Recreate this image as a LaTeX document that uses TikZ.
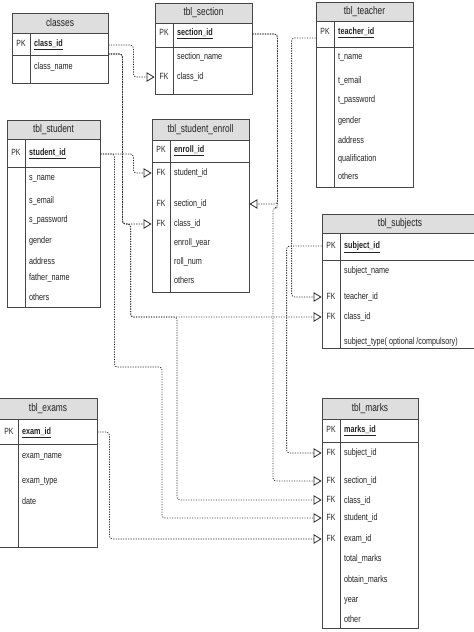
\documentclass[tikz,border=0pt]{standalone}
\usepackage{fontspec}
\setmainfont{Liberation Sans}[FakeStretch=0.76]
\usetikzlibrary{arrows.meta,fit,calc}
\definecolor{headgray}{RGB}{222,222,222}
\definecolor{linegray}{RGB}{70,70,70}
\definecolor{textgray}{RGB}{35,35,35}
\definecolor{relgray}{RGB}{45,45,45}
\tikzset{
  tline/.style={draw=linegray, line width=0.8pt},
  tbox/.style={draw=linegray, line width=0.8pt, inner sep=0pt},
  ttl/.style={font=\fontsize{11}{13}\selectfont, text=textgray, inner sep=0pt},
  keytxt/.style={font=\fontsize{9}{10}\selectfont, text=textgray, inner sep=0pt, text height=6.8pt, text depth=1.6pt},
  fld/.style={anchor=west, font=\fontsize{9.5}{11}\selectfont, text=textgray, inner sep=0pt, text height=6.8pt, text depth=1.6pt},
  rel/.style={draw=relgray, line width=0.8pt, dash pattern=on 1.1pt off 1.4pt, rounded corners=3pt,
              -{Triangle[open, length=8pt, width=9.5pt]}},
}
\newcommand\ertable[9]{%
  \fill[headgray] (#3,#4) rectangle (#5,#6);
  \draw[tline] (#3,#6) -- (#5,#6) (#3,#7) -- (#5,#7) (#9,#6) -- (#9,#8);
  \node[tbox, fit={(#3,#4) (#5,#8)}] (#1) {};
  \node[ttl] (#1-title) at ({(#3+#5)/2},{(#4+#6)/2}) {#2};
}
\newcommand\keylbl[4]{\node[keytxt] (#1) at (#2,#3) {#4};}
\newcommand\fieldlbl[4]{\node[fld] (#1) at (#2,#3) {#4};}
\begin{document}
\begin{tikzpicture}[x=1pt,y=-1pt]
\useasboundingbox[fill=white] (0,0) rectangle (474,632);
% classes
\ertable{classes}{classes}{12}{13}{108}{33}{55}{83}{30}
\keylbl{classes-pk}{21}{44}{PK}
\fieldlbl{classes-classid}{34}{44}{\underline{\textbf{class\_id}}}
\fieldlbl{classes-classname}{34}{67}{class\_name}
% tbl_section
\ertable{section}{tbl\_section}{155}{3}{252}{23}{47}{94}{173}
\keylbl{section-pk}{164}{33}{PK}
\fieldlbl{section-id}{177}{33}{\underline{\textbf{section\_id}}}
\fieldlbl{section-name}{177}{57}{section\_name}
\keylbl{section-fk}{164}{77}{FK}
\fieldlbl{section-classid}{177}{77}{class\_id}
% tbl_teacher
\ertable{teacher}{tbl\_teacher}{316}{2}{413}{21}{47}{187}{334}
\keylbl{teacher-pk}{325}{32}{PK}
\fieldlbl{teacher-id}{338}{32}{\underline{\textbf{teacher\_id}}}
\fieldlbl{teacher-name}{338}{57}{t\_name}
\fieldlbl{teacher-email}{338}{81}{t\_email}
\fieldlbl{teacher-pw}{338}{100}{t\_password}
\fieldlbl{teacher-gender}{338}{121}{gender}
\fieldlbl{teacher-address}{338}{141}{address}
\fieldlbl{teacher-qual}{338}{159}{qualification}
\fieldlbl{teacher-others}{338}{177}{others}
% tbl_student
\ertable{student}{tbl\_student}{7}{120}{100}{139}{167}{307}{25}
\keylbl{student-pk}{16}{153}{PK}
\fieldlbl{student-id}{29}{153}{\underline{\textbf{student\_id}}}
\fieldlbl{student-name}{29}{178}{s\_name}
\fieldlbl{student-email}{29}{201}{s\_email}
\fieldlbl{student-pw}{29}{220}{s\_password}
\fieldlbl{student-gender}{29}{241}{gender}
\fieldlbl{student-address}{29}{262}{address}
\fieldlbl{student-father}{29}{278}{father\_name}
\fieldlbl{student-others}{29}{298}{others}
% tbl_student_enroll
\ertable{enroll}{tbl\_student\_enroll}{152}{119}{249}{140}{162}{292}{170}
\keylbl{enroll-pk}{161}{150}{PK}
\fieldlbl{enroll-id}{174}{150}{\underline{\textbf{enroll\_id}}}
\keylbl{enroll-fk1}{161}{173}{FK}
\fieldlbl{enroll-studentid}{174}{173}{student\_id}
\keylbl{enroll-fk2}{161}{204}{FK}
\fieldlbl{enroll-sectionid}{174}{204}{section\_id}
\keylbl{enroll-fk3}{161}{224}{FK}
\fieldlbl{enroll-classid}{174}{224}{class\_id}
\fieldlbl{enroll-year}{174}{243}{enroll\_year}
\fieldlbl{enroll-roll}{174}{262}{roll\_num}
\fieldlbl{enroll-others}{174}{281}{others}
% tbl_subjects
\ertable{subjects}{tbl\_subjects}{322}{214}{478}{233}{260}{348}{340}
\keylbl{subjects-pk}{331}{246}{PK}
\fieldlbl{subjects-id}{344}{246}{\underline{\textbf{subject\_id}}}
\fieldlbl{subjects-name}{344}{271}{subject\_name}
\keylbl{subjects-fk1}{331}{297}{FK}
\fieldlbl{subjects-teacherid}{344}{297}{teacher\_id}
\keylbl{subjects-fk2}{331}{317}{FK}
\fieldlbl{subjects-classid}{344}{317}{class\_id}
\fieldlbl{subjects-type}{344}{342}{subject\_type( optional /compulsory)}
% tbl_exams
\ertable{exams}{tbl\_exams}{-1}{398}{97}{419}{444}{547}{18}
\keylbl{exams-pk}{9}{432}{PK}
\fieldlbl{exams-id}{22}{432}{\underline{\textbf{exam\_id}}}
\fieldlbl{exams-name}{22}{456}{exam\_name}
\fieldlbl{exams-type}{22}{481}{exam\_type}
\fieldlbl{exams-date}{22}{502}{date}
% tbl_marks
\ertable{marks}{tbl\_marks}{322}{398}{418}{419}{442}{628}{340}
\keylbl{marks-pk}{331}{430}{PK}
\fieldlbl{marks-id}{344}{430}{\underline{\textbf{marks\_id}}}
\keylbl{marks-fk1}{331}{453}{FK}
\fieldlbl{marks-subjectid}{344}{453}{subject\_id}
\keylbl{marks-fk2}{331}{481}{FK}
\fieldlbl{marks-sectionid}{344}{481}{section\_id}
\keylbl{marks-fk3}{331}{500}{FK}
\fieldlbl{marks-classid}{344}{501}{class\_id}
\keylbl{marks-fk4}{331}{518}{FK}
\fieldlbl{marks-studentid}{344}{518}{student\_id}
\keylbl{marks-fk5}{331}{539}{FK}
\fieldlbl{marks-examid}{344}{539}{exam\_id}
\fieldlbl{marks-total}{344}{559}{total\_marks}
\fieldlbl{marks-obtain}{344}{580}{obtain\_marks}
\fieldlbl{marks-year}{344}{600}{year}
\fieldlbl{marks-other}{344}{620}{other}
% junctions
\coordinate (j1) at ($(enroll.west|-enroll-fk3)+(-21,0)$);
\coordinate (j2) at (177,317);
\coordinate (j3) at (162,367);
\coordinate (j4) at (273,208);
% relationships
\draw[rel] ($(classes.east|-classes-classid)+(0,1)$) -- ++(25,0) |- (section.west|-section-fk);
\draw[rel] ($(classes.east|-classes-classid)+(0,10)$) -- ++(14,0) |- (enroll.west|-enroll-fk3);
\draw[rel] ($(classes.east|-classes-classid)+(0,10)$) -- ++(14,0) |- (j1) |- (subjects.west|-subjects-fk2);
\draw[rel] ($(classes.east|-classes-classid)+(0,10)$) -- ++(14,0) |- (j1) |- (j2) |- (marks.west|-marks-fk3);
\draw[rel] ($(student.east|-student-id)+(0,1)$) -- ++(33,0) |- (enroll.west|-enroll-fk1);
\draw[rel] ($(student.east|-student-id)+(0,1)$) -- ++(14,0) |- (j3) |- (marks.west|-marks-fk4);
\draw[rel] ($(section.east|-section-id)+(0,1)$) -- ++(25,0) |- (enroll.east|-enroll-fk2);
\draw[rel] ($(section.east|-section-id)+(0,1)$) -- ++(25,0) |- (j4) |- (marks.west|-marks-fk2);
\draw[rel] ($(teacher.west|-teacher-id)+(0,6)$) -- ++(-24,0) |- (subjects.west|-subjects-fk1);
\draw[rel] (subjects.west|-subjects-id) -- ++(-35,0) |- (marks.west|-marks-fk1);
\draw[rel] (exams.east|-exams-id) -- ++(12,0) |- (marks.west|-marks-fk5);
\end{tikzpicture}
\end{document}
